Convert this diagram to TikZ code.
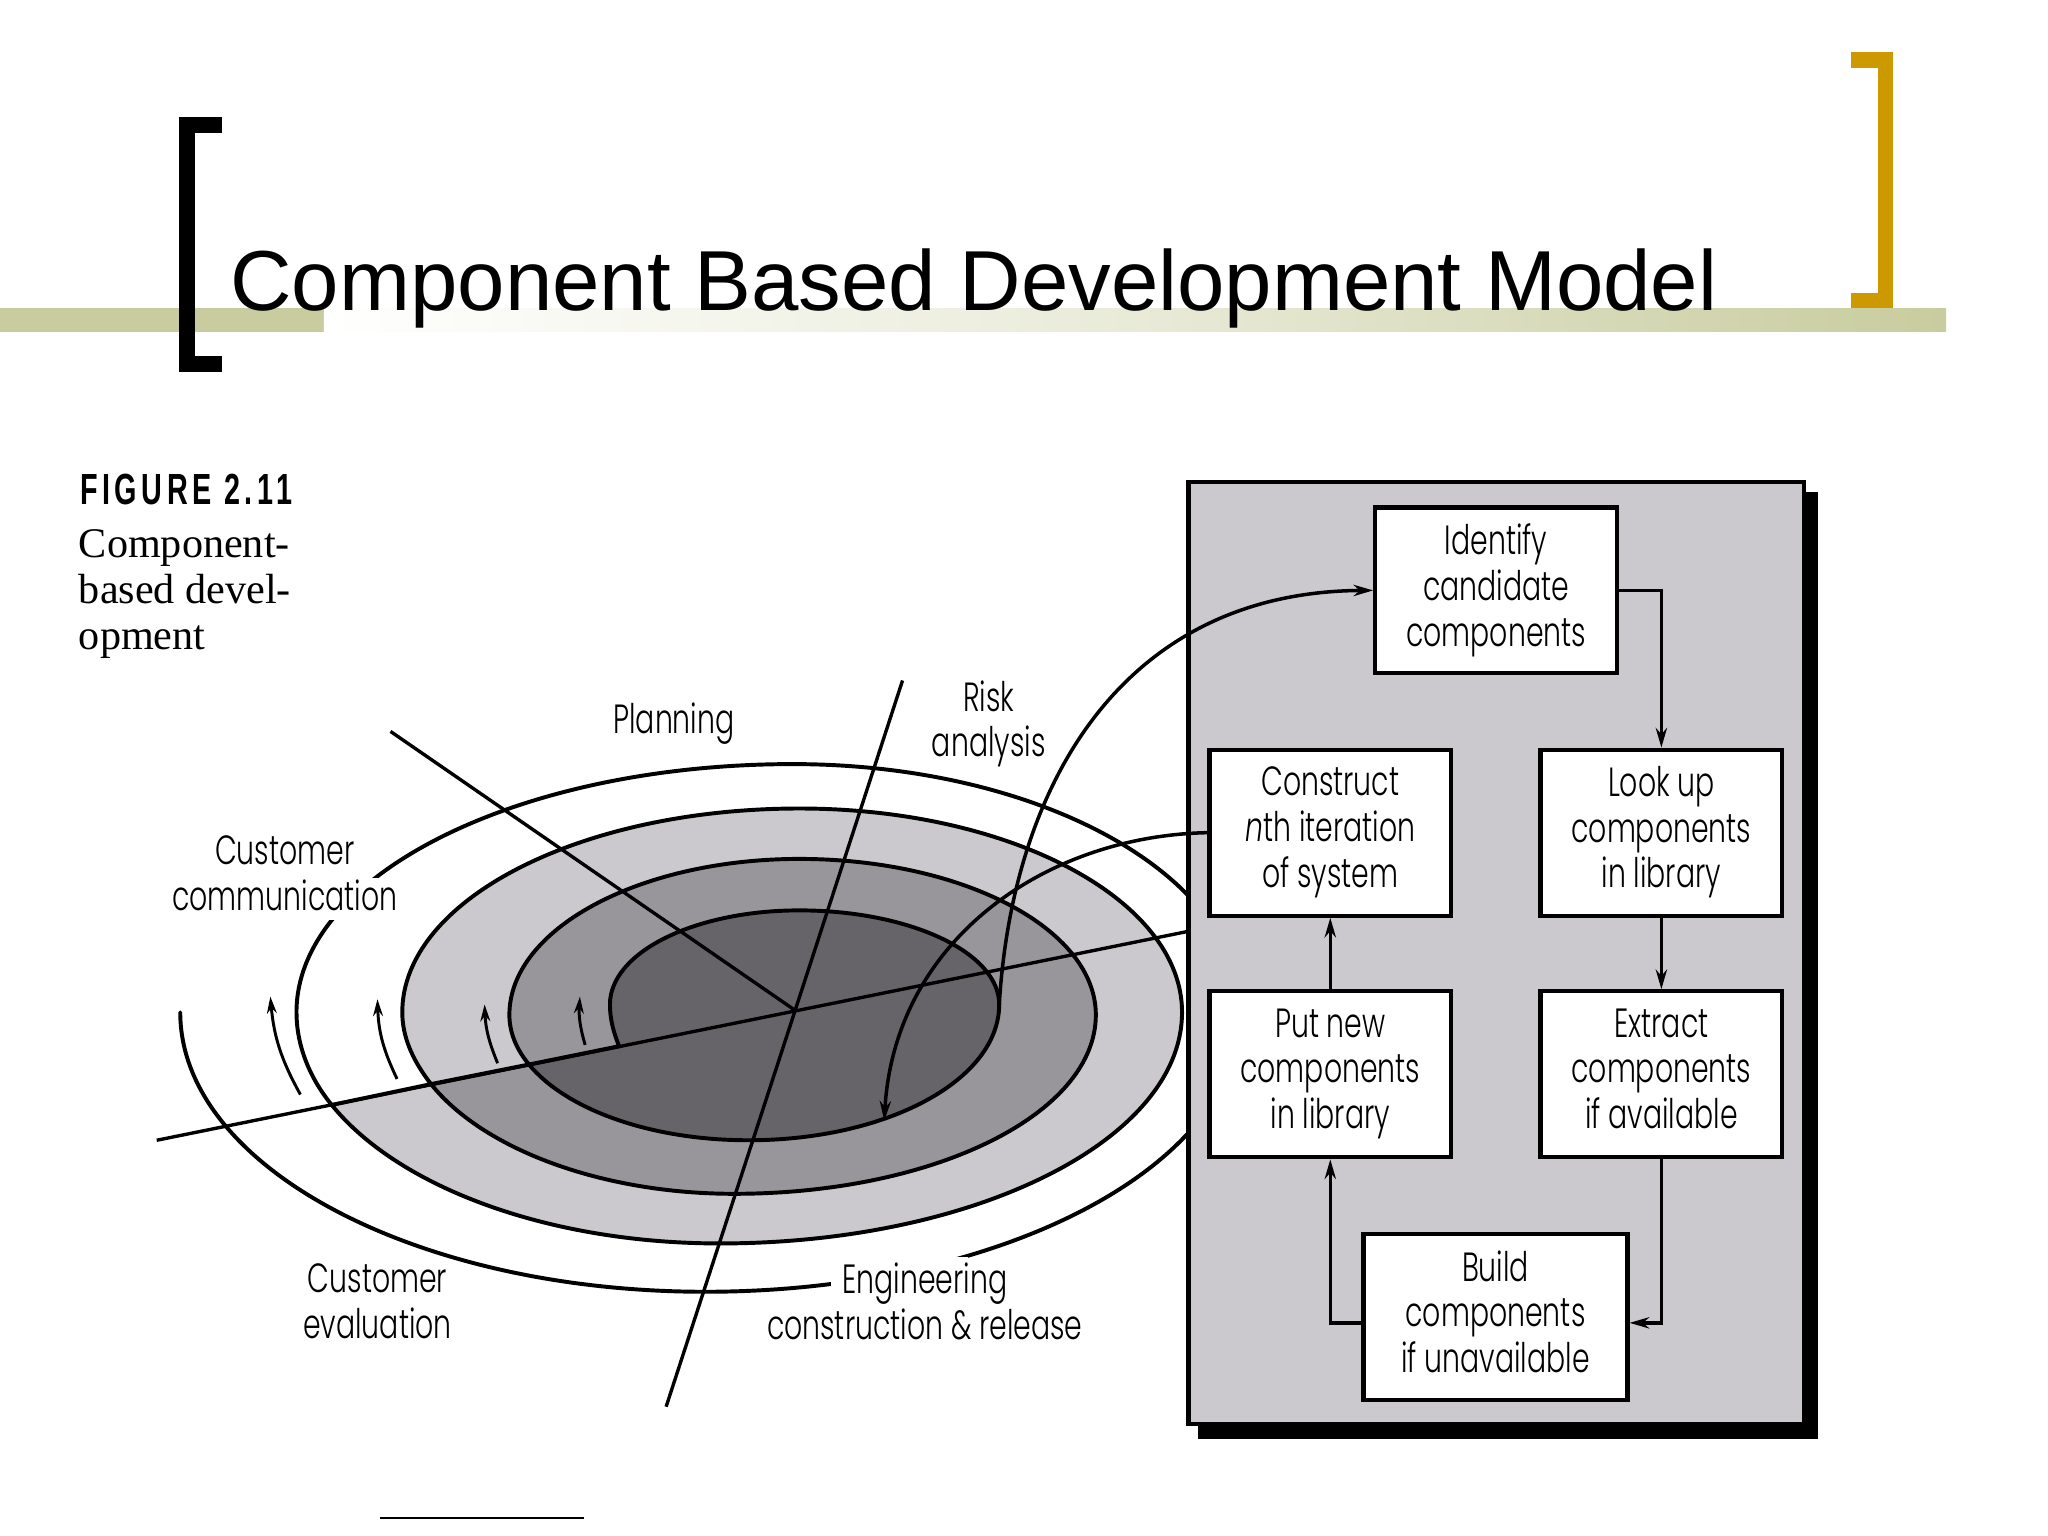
\documentclass[tikz,border=0pt]{standalone}
\usepackage{fontspec}
\usetikzlibrary{arrows.meta,positioning}
\setmainfont{Liberation Sans}
\newfontfamily\labelfont[FakeStretch=0.695]{Poppins Light}
\newfontfamily\capfont{Liberation Serif}
\newfontfamily\figfont[FakeStretch=0.66,LetterSpace=10.5]{Liberation Sans}
\definecolor{barolive}{HTML}{C8CC9E}
\definecolor{bracketgold}{HTML}{CC9900}
\definecolor{ringlight}{HTML}{CBC9CD}
\definecolor{ringmid}{HTML}{98969A}
\definecolor{ringdark}{HTML}{666468}
\newcommand{\px}{0.0163265cm}
\newcommand{\lineprop}{\rule[-4pt]{0pt}{12pt}}
\tikzset{
    spiralline/.style={line width=1.4pt,line cap=round,line join=round},
    axisline/.style={line width=1.2pt},
    smallarrow/.style={line width=1.05pt,-{Stealth[length=6pt,width=3.5pt]}},
    flowarrow/.style={line width=1.25pt,-{Stealth[length=7pt,width=4pt]}},
    stepbox/.style={draw=black,fill=white,line width=1.5pt,align=center,inner sep=0pt,
        execute at begin node=\lineprop,execute at end node=\lineprop,
        font=\labelfont\fontsize{14.5}{16.3}\selectfont,minimum width=185*\px,minimum height=127*\px},
    ringlabel/.style={align=center,execute at begin node=\lineprop,execute at end node=\lineprop,
        font=\labelfont\fontsize{14.5}{16.3}\selectfont}
}
\begin{document}
\begin{tikzpicture}[x=0.0163265cm,y=-0.0163265cm]
    \useasboundingbox (0,0) rectangle (1568,1176);
    % title bar
    \fill[barolive] (0,236) rectangle (248,254);
    \shade[left color=white,right color=barolive,middle color=white!60!barolive] (248,236) rectangle (1490,254);
    \draw[line width=5.7pt] (170,96)--(143,96)--(143,279)--(170,279);
    \draw[bracketgold,line width=5.5pt] (1417,46)--(1443.5,46)--(1443.5,230)--(1417,230);
    \node[anchor=base west,inner sep=0pt,font=\fontsize{30.3}{36}\selectfont] (title) at (176,238) {Component Based Development Model};
    % caption
    \node[anchor=west,inner sep=0pt,font=\figfont\bfseries\fontsize{15.5}{18}\selectfont] (figno) at (61,375) {FIGURE 2.11};
    \node[anchor=north west,inner sep=0pt,align=left,font=\capfont\fontsize{15}{16.4}\selectfont] (figcap) at (60,405) {Component-\\based devel-\\opment};
    % spiral
    \draw[spiralline] (254,846) .. controls +(-18,-22) and +(0,24) .. (227,775)
        .. controls +(0,-105) and +(-210,0) .. (607,585)
        .. controls +(189,0) and +(0,-105) .. (950,775)
        .. controls +(0,118) and +(226,0) .. (540,989)
        .. controls +(-222,0) and +(0,118) .. (138,775);
    \filldraw[spiralline,fill=ringlight] (330,830) .. controls +(-14,-18) and +(0,19) .. (308,775)
        .. controls +(0,-86) and +(-168,0) .. (612,619)
        .. controls +(162,0) and +(0,-86) .. (905,775)
        .. controls +(0,98) and +(195,0) .. (551,952)
        .. controls +(-129,0) and +(52,64) .. (254,846) -- cycle;
    \filldraw[spiralline,fill=ringmid] (405,815) .. controls +(-10,-12) and +(0,13) .. (390,777)
        .. controls +(0,-66) and +(-122,0) .. (612,657.6)
        .. controls +(125,0) and +(0,-66) .. (839,777)
        .. controls +(0,76) and +(153,0) .. (562,914)
        .. controls +(-101,0) and +(40,50) .. (330,830) -- cycle;
    \filldraw[spiralline,fill=ringdark] (474,801) .. controls +(-4,-10) and +(0,12) .. (467,769)
        .. controls +(0,-40) and +(-80,0) .. (612,697)
        .. controls +(84,0) and +(0,-40) .. (765,769)
        .. controls +(0,58) and +(106,0) .. (573,873)
        .. controls +(-74,0) and +(29,35) .. (405,815) -- cycle;
    % gaps for the labels
    \fill[white] (245,672) rectangle (304,704);
    \fill[white] (636,962) rectangle (741,996);
    % phase lines
    \draw[axisline] (120,873)--(910,713);
    \draw[axisline] (691,521)--(510,1077);
    \draw[axisline] (299,560)--(608,773);
    % small arcs
    \draw[smallarrow] (230,838) to[bend left=12] (207,763);
    \draw[smallarrow] (304,826) to[bend left=12] (289,765);
    \draw[smallarrow] (381,814) to[bend left=10] (371,769);
    \draw[smallarrow] (448,800) to[bend left=10] (444,763);
    % labels
    \node[ringlabel] (planning) at (516,554.5) {Planning};
    \node[ringlabel] (risk) at (757,554.5) {Risk\\analysis};
    \node[ringlabel] (custcomm) at (218,672.5) {Customer\\communication};
    \node[ringlabel] (custeval) at (289,1000.5) {Customer\\evaluation};
    \node[ringlabel] (engineering) at (708,1000.5) {Engineering\\construction \& release};
    % panel
    \fill[black] (917,377) rectangle (1392,1102);
    \filldraw[draw=black,fill=ringlight,line width=1.5pt] (910,369) rectangle (1381,1090);
    \node[stepbox] (identify) at (1145.5,452) {Identify\\candidate\\components};
    \node[stepbox] (construct) at (1018.5,637.5) {Construct\\\textit{n}th iteration\\of system};
    \node[stepbox] (lookup) at (1272,637.5) {Look up\\components\\in library};
    \node[stepbox] (putnew) at (1018.5,822.5) {Put new\\components\\in library};
    \node[stepbox] (extract) at (1272,822.5) {Extract\\components\\if available};
    \node[stepbox,minimum width=202*\px] (build) at (1145,1008.5) {Build\\components\\if unavailable};
    % flow
    \coordinate (innerend) at (765,770);
    \coordinate (innertip) at (677,858);
    \draw[flowarrow] (identify.east) -| (lookup.north);
    \draw[flowarrow] (lookup.south)--(extract.north);
    \draw[flowarrow] (extract.south) |- ([yshift=-2pt]build.east);
    \draw[flowarrow] ([yshift=-2pt]build.west) -| (putnew.south);
    \draw[flowarrow] (putnew.north)--(construct.south);
    \draw[flowarrow] (innerend) .. controls (775,600) and (860,453) .. (identify.west);
    \draw[flowarrow] (construct.west) .. controls (800,640) and (685,720) .. (innertip);
    % rule at the foot
    \coordinate (rulestart) at (291,1162);
    \coordinate (ruleend) at (447,1162);
    \draw[line width=0.8pt] (rulestart)--(ruleend);
\end{tikzpicture}
\end{document}
